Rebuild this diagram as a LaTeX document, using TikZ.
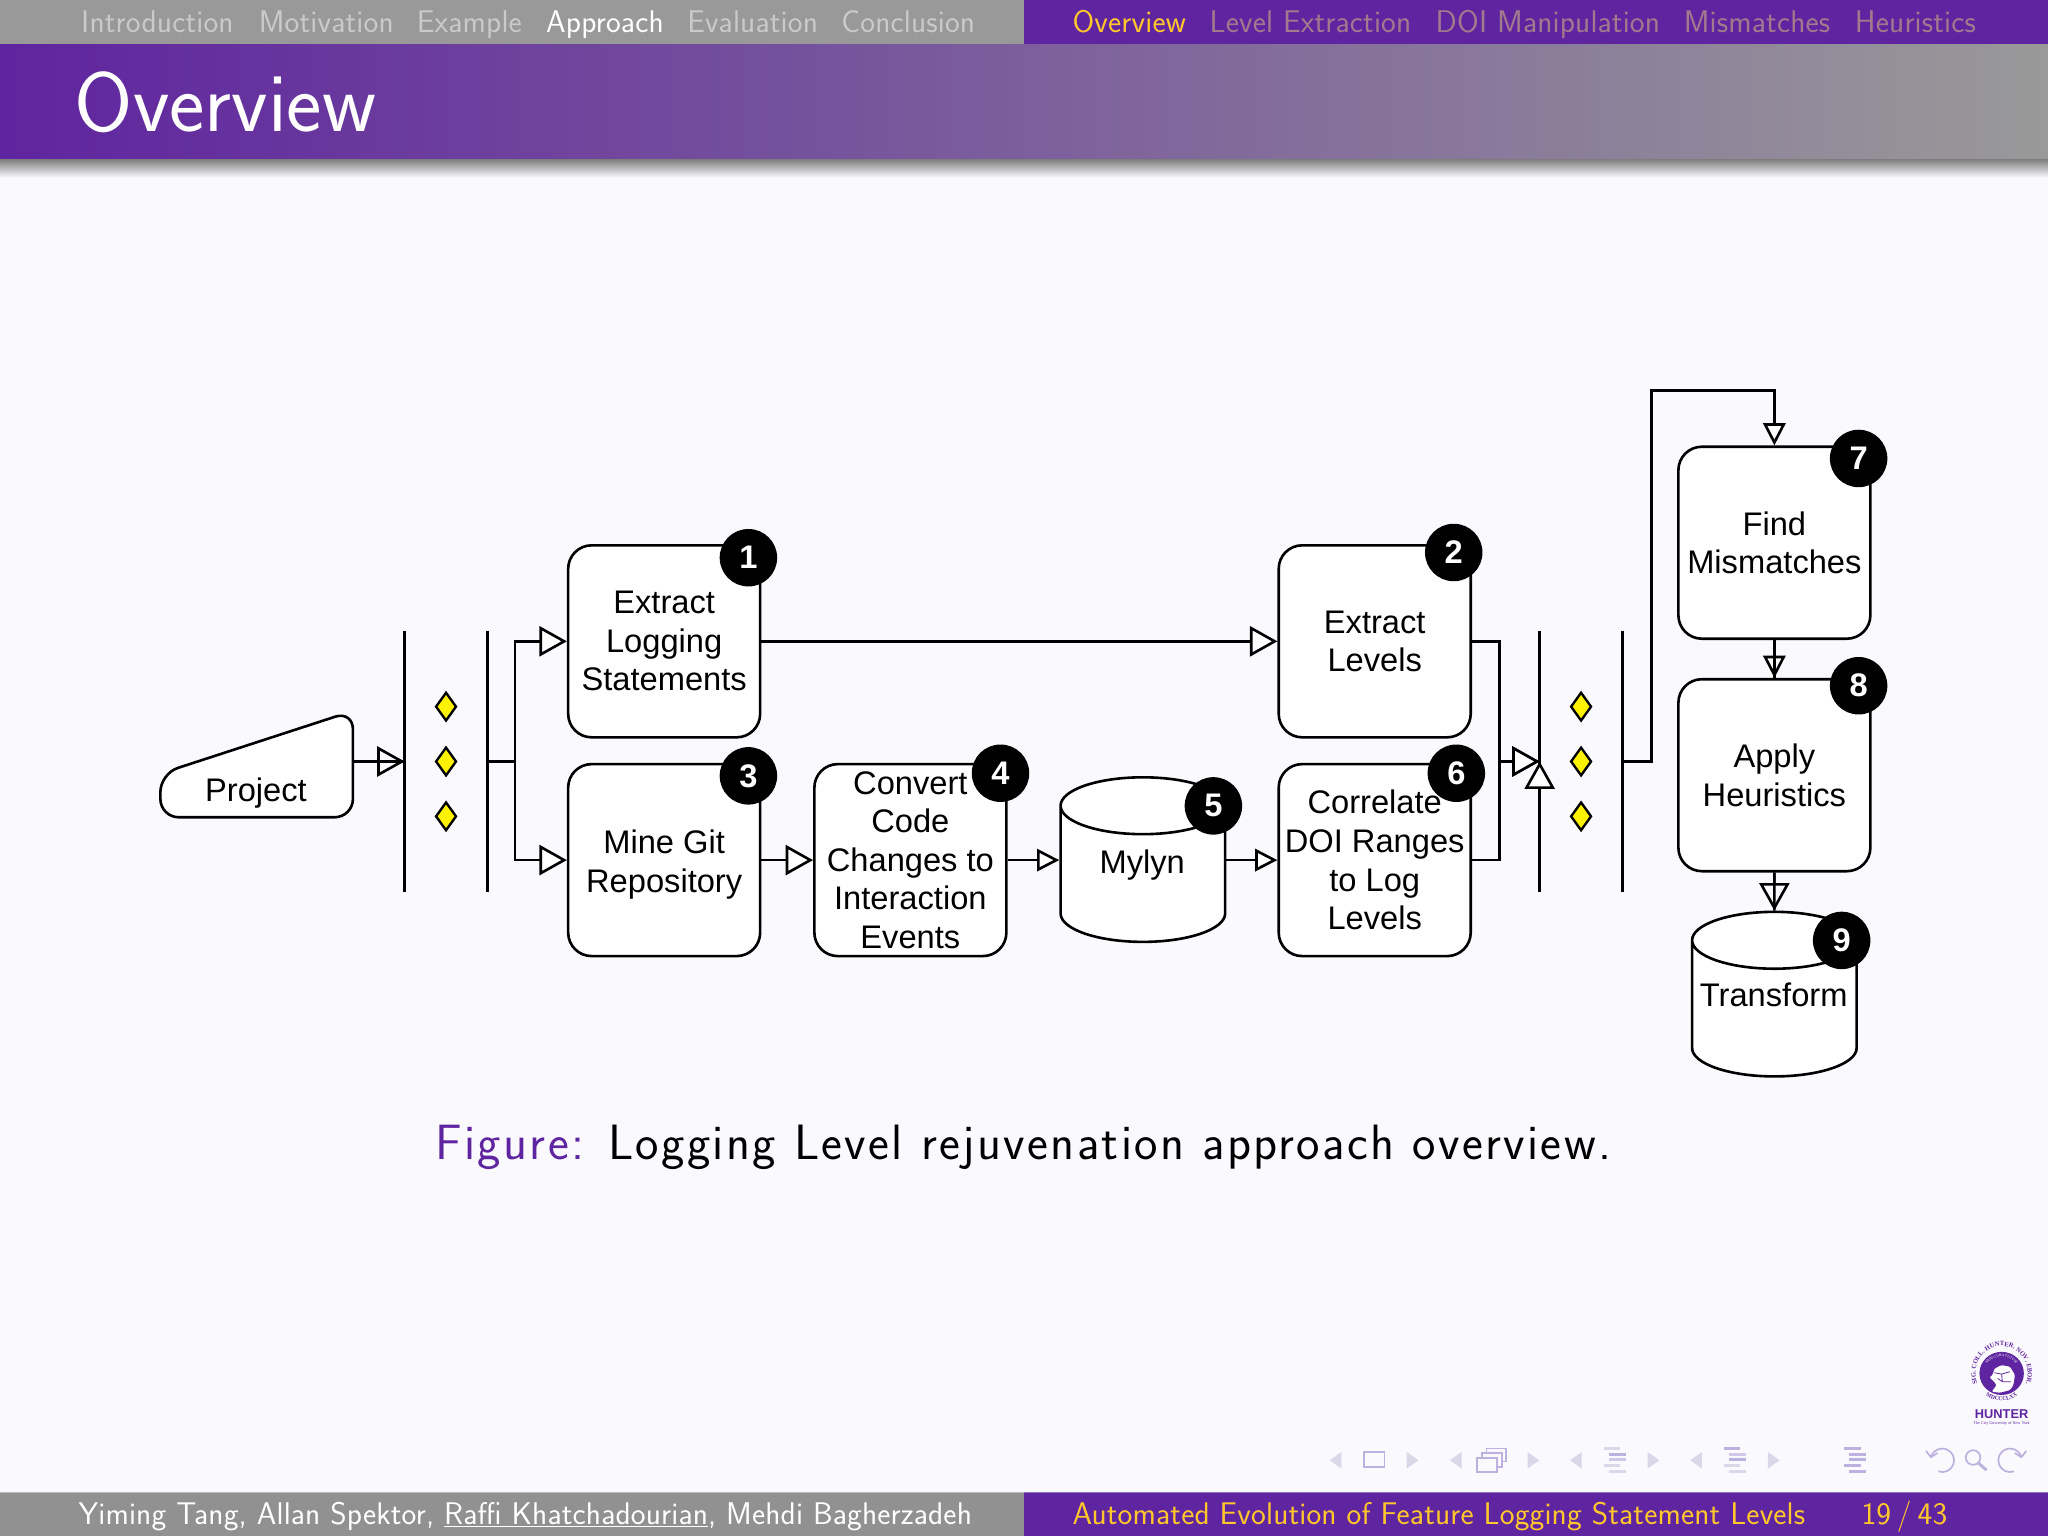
\documentclass[tikz,border=0pt]{standalone}
\usepackage{fontspec}
\setsansfont{Latin Modern Sans}
\newfontfamily\diagfont{Liberation Sans}
\newfontfamily\crestfont{Liberation Serif}
\usetikzlibrary{arrows.meta,shapes.geometric,decorations.text}
\definecolor{hunter}{HTML}{5F249F}
\definecolor{barGray}{HTML}{999999}
\definecolor{paper}{HTML}{FAF9FD}
\definecolor{gold}{HTML}{FFC72C}
\definecolor{dimgold}{HTML}{A17A8E}
\definecolor{dimwhite}{HTML}{CACACA}
\definecolor{navtint}{HTML}{BDB1DF}
\definecolor{navfade}{HTML}{DAD7E9}
\tikzset{%
  % Specifications for style of arrows:
  flow/.style = {line width=2pt, -{Triangle[fill=white,length=21pt,width=23pt,line width=2pt]}},
  flowsmall/.style = {line width=2pt, -{Triangle[fill=white,length=17pt,width=17pt,line width=2pt]}},
  flowopen/.style = {line width=2pt, -{Triangle[open,length=21pt,width=23pt,line width=2pt]}},
  flowopensmall/.style = {line width=2pt, -{Triangle[open,length=17pt,width=17pt,line width=2pt]}},
  % Specifications for style of nodes:
  stepbox/.style = {rectangle, rounded corners=18pt, draw=black, line width=2pt, fill=white,
                    minimum width=147pt, minimum height=147pt, inner sep=0pt,
                    align=center, font=\diagfont\fontsize{25}{29.5}\selectfont},
  store/.style = {cylinder, shape border rotate=90, aspect=0.667, draw=black, line width=2pt,
                  fill=white, minimum width=126pt, minimum height=126pt, inner sep=0pt,
                  font=\diagfont\fontsize{25}{29.5}\selectfont},
  storename/.style = {inner sep=0pt, font=\diagfont\fontsize{25}{29.5}\selectfont},
  badge/.style = {circle, fill=black, text=white, minimum size=44pt, inner sep=0pt,
                  font=\diagfont\bfseries\fontsize{25}{25}\selectfont},
  gate/.style = {rectangle, minimum width=63pt, minimum height=200pt, inner sep=0pt},
  gem/.style = {diamond, draw=black, line width=1.8pt, fill=yellow, aspect=0.73,
                minimum width=16pt, minimum height=22pt, inner sep=0pt},
  navtext/.style = {anchor=base west, inner sep=0pt,
                    font=\sffamily\fontsize{24}{24}\selectfont\addfontfeatures{LetterSpace=0.55}},
}
\newcommand{\navleft}[1]{\fill[navfade] (#1+4.5,1111.7) -- (#1-4.5,1118) -- (#1+4.5,1124.3) -- cycle;}
\newcommand{\navright}[1]{\fill[navfade] (#1-4.5,1111.7) -- (#1+4.5,1118) -- (#1-4.5,1124.3) -- cycle;}
\newcommand{\navlines}[6]{%
  \fill[#2] (#1-9,1108) rectangle (#1+3.5,1110.2);
  \fill[#3] (#1-5,1112.4) rectangle (#1+8,1114.6);
  \fill[#4] (#1-5,1116.5) rectangle (#1+8,1118.7);
  \fill[#5] (#1-9,1120.9) rectangle (#1+3.5,1123.1);
  \fill[#6] (#1-5,1125.3) rectangle (#1+8,1127.5);}

\begin{document}
\begin{tikzpicture}[x=1pt, y=-1pt, >=Latex]
  \useasboundingbox (0,0) rectangle (1568,1176);
  \fill[paper] (0,0) rectangle (1568,1176);
  % Header and footer bands
  \fill[barGray] (0,0) rectangle (784,34);
  \fill[hunter] (784,0) rectangle (1568,34);
  \shade[left color=hunter, right color=barGray] (0,34) rectangle (1568,122);
  \shade[top color=black!50, bottom color=paper] (0,122) rectangle (1568,136);
  \fill[barGray!95!black] (0,1142) rectangle (784,1176);
  \fill[hunter] (784,1142) rectangle (1568,1176);
  \fill[barGray!70!white] (0,1142) rectangle (784,1143);
  \fill[hunter!65!white] (784,1142) rectangle (1568,1143);
  % Header text
  \node (navIntro)      [navtext, text=dimwhite] at (62,25)   {Introduction};
  \node (navMotiv)      [navtext, text=dimwhite] at (198,25)  {Motivation};
  \node (navExample)    [navtext, text=dimwhite] at (319,25)  {Example};
  \node (navApproach)   [navtext, text=white]    at (418,25)  {Approach};
  \node (navEval)       [navtext, text=dimwhite] at (526,25)  {Evaluation};
  \node (navConcl)      [navtext, text=dimwhite] at (644,25)  {Conclusion};
  \node (navOverview)   [navtext, text=gold]     at (821,25)  {Overview};
  \node (navLevel)      [navtext, text=dimgold]  at (926,25)  {Level Extraction};
  \node (navDoi)        [navtext, text=dimgold]  at (1099,25) {DOI Manipulation};
  \node (navMismatch)   [navtext, text=dimgold]  at (1289,25) {Mismatches};
  \node (navHeur)       [navtext, text=dimgold]  at (1420,25) {Heuristics};
  \node (title) [anchor=base west, inner sep=0pt, text=white, font=\sffamily\fontsize{64.5}{64.5}\selectfont] at (57,100.5) {Overview};
  % Specification of nodes (position, etc.)
  \node (extract)   [stepbox] at (508.5,491) {Extract\\Logging\\Statements};
  \node (mine)      [stepbox, below of=extract, node distance=167.5pt] {\rule{0pt}{25pt}Mine Git\\Repository};
  \node (convert)   [stepbox, right of=mine, node distance=188.5pt] {Convert\\Code\\Changes to\\Interaction\\Events};
  \node (mylyn)     [store, right of=convert, node distance=178pt, yshift=-11pt] {\phantom{Mylyn}};
  \node (mylynname) [storename] at (874.5,662) {Mylyn};
  \node (correlate) [stepbox, right of=convert, node distance=355.5pt] {Correlate\\DOI Ranges\\to Log\\Levels};
  \node (levels)    [stepbox, above of=correlate, node distance=167.5pt] {Extract\\Levels};
  \node (find)      [stepbox] at (1358.5,415.5) {Find\\Mismatches};
  \node (apply)     [stepbox, below of=find, node distance=178pt] {Apply\\Heuristics};
  \node (transform) [store, below of=apply, node distance=179pt] {\phantom{Mylyn}};
  \node (transformname) [storename] at (1358,762) {Transform};
  \coordinate (findin) at ([yshift=42pt]find.north);
  % Project shape
  \node (project) [minimum width=147pt, minimum height=81pt, inner sep=0pt] at (196.5,585) {};
  \draw[line width=2pt, fill=white, rounded corners=14pt] (project.south west)
    -- ([yshift=-48pt]project.north west) -- (project.north east) -- (project.south east) -- cycle;
  \node (projectname) [font=\diagfont\fontsize{25}{29.5}\selectfont] at (196,607) {Project};
  % Gates with their diamonds
  \node (gateA) [gate] at (341.5,583) {};
  \node (gateB) [gate] at (1210.5,583) {};
  \draw[line width=2pt] (gateA.north west) -- (gateA.south west);
  \draw[line width=2pt] (gateA.north east) -- (gateA.south east);
  \draw[line width=2pt] (gateB.north west) -- (gateB.south west);
  \draw[line width=2pt] (gateB.north east) -- (gateB.south east);
  \node (gemA2) [gem] at (gateA) {};
  \node (gemA1) [gem, above of=gemA2, node distance=42pt] {};
  \node (gemA3) [gem, below of=gemA2, node distance=42pt] {};
  \node (gemB2) [gem] at (gateB) {};
  \node (gemB1) [gem, above of=gemB2, node distance=42pt] {};
  \node (gemB3) [gem, below of=gemB2, node distance=42pt] {};
  % Specification of lines between nodes specified above
  \draw[line width=2pt] (gateA.west -| project.east) -- (gateA.west);
  \draw[flowopen] (gateA.west -| project.east) -- (gateA.west);
  \draw[flow] (gateA.east) -- ++(21,0) |- (extract.west);
  \draw[flow] (gateA.east) -- ++(21,0) |- (mine.west);
  \draw[flow] (extract.east) -- (levels.west);
  \draw[flow] (mine.east) -- (convert.west);
  \draw[flowsmall] (convert.east) -- (convert.east -| mylyn.west);
  \draw[flowsmall] (correlate.west -| mylyn.east) -- (correlate.west);
  \draw[flow] (levels.east) -- ++(21,0) |- (gateB.west);
  \draw[flow] (correlate.east) -- ++(21,0) |- (gateB.west);
  \draw[flow] (gateB.south west) -- (gateB.west);
  \draw[flowsmall] (gateB.east) -- ++(22,0) |- (findin) -- (find.north);
  \draw[line width=2pt] (find.south) -- (apply.north);
  \draw[flowopensmall] (find.south) -- (apply.north);
  \draw[line width=2pt] (apply.south) -- (transform.north);
  \draw[flowopen] (apply.south) -- (transform.north);
  % Numbered badges
  \node (badge1) [badge] at (573,427)  {1};
  \node (badge2) [badge] at (1113,423) {2};
  \node (badge3) [badge] at (573,594)  {3};
  \node (badge4) [badge] at (766,592)  {4};
  \node (badge5) [badge] at (929,617)  {5};
  \node (badge6) [badge] at (1115,592) {6};
  \node (badge7) [badge] at (1423,351) {7};
  \node (badge8) [badge] at (1423,525) {8};
  \node (badge9) [badge] at (1410,720) {9};
  % Caption
  \node (caption) [anchor=base west, inner sep=0pt, font=\sffamily\fontsize{38}{38}\selectfont\addfontfeatures{LetterSpace=4.85}] at (333,888)
    {\textcolor{hunter}{Figure:} Logging Level rejuvenation approach overview.};
  % Footer text
  \node (authors)  [navtext, text=white] at (60,1167) {Yiming Tang, Allan Spektor, \underline{Raffi Khatchadourian}, Mehdi Bagherzadeh};
  \node (talk)     [navtext, text=gold]  at (821,1167) {Automated Evolution of Feature Logging Statement Levels};
  \node (pagenum)  [navtext, text=gold]  at (1425,1167) {\spaceskip=4.5pt 19 / 43};
  % Navigation symbols
  \navleft{1022.5} \navright{1081.5}
  \draw[navtint, line width=1.5pt] (1044,1112) rectangle (1060,1123.5);
  \navleft{1114.5} \navright{1174}
  \draw[navtint, line width=1.3pt] (1138,1109) rectangle (1153,1119);
  \draw[navtint, line width=1.3pt, fill=paper] (1134.5,1112.5) rectangle (1150,1123);
  \draw[navtint, line width=1.3pt, fill=paper] (1131,1116) rectangle (1146,1127);
  \navleft{1206.5} \navlines{1237}{navfade}{navtint}{navtint!70!white}{navfade}{navfade} \navright{1266}
  \navleft{1298.5} \navlines{1329}{navtint}{navtint!70!white}{navtint}{navfade}{navfade} \navright{1358}
  \navlines{1421}{navtint}{navtint}{navtint}{navtint}{navtint}
  \draw[navtint, line width=1.3pt, -{Straight Barb[length=4pt,width=9pt]}] (1484,1126.5) arc[start angle=-110, end angle=170, radius=9pt];
  \draw[navtint, line width=1.3pt] (1510.6,1115.9) circle (5.6pt);
  \draw[navtint, line width=2.2pt] (1514.6,1120) -- (1521,1125.6);
  \draw[navtint, line width=1.3pt, -{Straight Barb[length=4pt,width=9pt]}] (1542,1126.5) arc[start angle=-70, end angle=-350, radius=9pt];
  % Logo
  \node (crest) [ellipse, fill=hunter, minimum width=34pt, minimum height=33pt, inner sep=0pt] at (1532.5,1051.5) {};
  \path[decorate, decoration={text along path, text align=center,
      text={|\crestfont\bfseries\fontsize{5}{5}\selectfont\color{hunter}|SIG. COLL. HUNTER. NOV. EBOR.}}]
      (1515.2,1062) arc[x radius=20pt, y radius=21pt, start angle=-150, end angle=-390];
  \path[decorate, decoration={text along path, text align=center,
      text={|\crestfont\fontsize{2.8}{2.8}\selectfont\color{white}|MIHI CURA FUTURI}}]
      (1519.4,1054.4) arc[x radius=13.5pt, y radius=12.5pt, start angle=-165, end angle=-375];
  \path[decorate, decoration={text along path, text align=center,
      text={|\crestfont\bfseries\fontsize{4.4}{4.4}\selectfont\color{hunter}|MDCCCLXX}}]
      (1518.4,1066.6) arc[x radius=20pt, y radius=20pt, start angle=-135, end angle=-45];
  \fill[white, rounded corners=1pt, shift={(1532.5,1051.5)}, x=.255pt, y=-.255pt]
    (-20,-15) -- (0,-25) -- (25,-20) -- (40,5) -- (35,35) -- (25,50) -- (-5,58) -- (-30,55)
    -- (-15,35) -- (-25,22) -- (-37,12) -- (-27,5) -- (-25,-5) -- cycle;
  \draw[hunter, line width=.6pt, shift={(1532.5,1051.5)}, x=.255pt, y=-.255pt]
    (-22,-2) -- (0,2) -- (25,-5) (0,2) -- (2,25) (-12,15) -- (2,25) -- (28,25);
  \node (hunterword) [text=hunter, inner sep=0pt, font=\diagfont\bfseries\fontsize{9.8}{9.8}\selectfont] at (1532.5,1082.5) {HUNTER};
  \node (huntersub) [text=hunter, inner sep=0pt, font=\crestfont\fontsize{3.2}{3.2}\selectfont] at (1532.5,1090) {The City University of New York};
\end{tikzpicture}
\end{document}
